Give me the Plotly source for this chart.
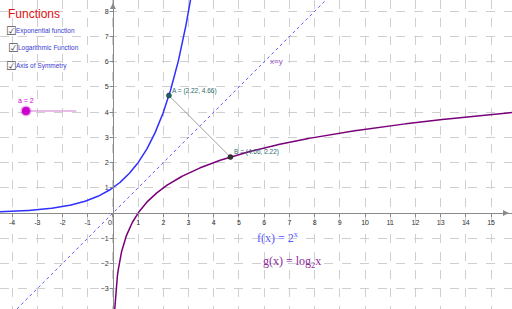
import numpy as np
import plotly.graph_objects as go

# ---- data ----
base_a = 2
x_range = [-4.48, 15.83]
y_range = [-3.81, 8.45]
x_ticks = list(range(-4, 16))
y_ticks = [-3, -2, -1, 1, 2, 3, 4, 5, 6, 7, 8]
point_A = (2.22, 4.66)
point_B = (4.66, 2.22)
checkbox_labels = ["Exponential function", "Logarithmic Function", "Axis of Symmetry"]
slider_value = 2

x_f = np.linspace(x_range[0], 3.12, 400)
y_f = base_a ** x_f
x_g = np.linspace(0.07, x_range[1], 600)
y_g = np.log(x_g) / np.log(base_a)
x_id = np.array([x_range[0], y_range[1]])

fig = go.Figure()

# axis of symmetry y = x
fig.add_trace(go.Scatter(x=x_id, y=x_id, mode="lines",
                         line=dict(color="#5a5aff", width=1, dash="dot"), hoverinfo="skip"))
# f(x) = 2^x
fig.add_trace(go.Scatter(x=x_f, y=y_f, mode="lines",
                         line=dict(color="#2f2fff", width=1.5), hoverinfo="skip"))
# g(x) = log2 x
fig.add_trace(go.Scatter(x=x_g, y=y_g, mode="lines",
                         line=dict(color="#780078", width=1.5), hoverinfo="skip"))
# segment AB
fig.add_trace(go.Scatter(x=[point_A[0], point_B[0]], y=[point_A[1], point_B[1]], mode="lines",
                         line=dict(color="#a0a0a0", width=1), hoverinfo="skip"))
# points
fig.add_trace(go.Scatter(x=[point_A[0]], y=[point_A[1]], mode="markers",
                         marker=dict(color="#1e5f66", size=5, line=dict(color="#0a3030", width=0.5)),
                         hoverinfo="skip"))
fig.add_trace(go.Scatter(x=[point_B[0]], y=[point_B[1]], mode="markers",
                         marker=dict(color="#333333", size=5, line=dict(color="#111111", width=0.5)),
                         hoverinfo="skip"))
# slider
fig.add_trace(go.Scatter(x=[-3.45, -1.45], y=[4.05, 4.05], mode="lines",
                         line=dict(color="#e0a8e0", width=1.5), hoverinfo="skip"))
fig.add_trace(go.Scatter(x=[-3.45], y=[4.05], mode="markers",
                         marker=dict(color="#cc00cc", size=8,
                                     line=dict(color="rgba(204,0,204,0.35)", width=3)),
                         hoverinfo="skip"))
# axis arrow heads
fig.add_trace(go.Scatter(x=[x_range[1] - 0.12], y=[0], mode="markers",
                         marker=dict(symbol="arrow-right", size=6, color="#8a8a8a"),
                         hoverinfo="skip"))
fig.add_trace(go.Scatter(x=[0], y=[y_range[1] - 0.12], mode="markers",
                         marker=dict(symbol="arrow-up", size=6, color="#8a8a8a"),
                         hoverinfo="skip"))

W, H = 512, 309

def px(x):
    return x / W

def py(y):
    return 1 - y / H

ann = []
ann.append(dict(x=px(6), y=py(14), xref="paper", yref="paper", text="Functions",
                showarrow=False, xanchor="left", yanchor="middle",
                font=dict(size=12, color="#e01010", family="Liberation Sans")))
cb_pos = [(6, 31), (8, 48), (6, 66)]
for (cx, cy), lab in zip(cb_pos, checkbox_labels):
    ann.append(dict(x=px(cx - 2), y=py(cy), xref="paper", yref="paper", text="☑",
                    showarrow=False, xanchor="left", yanchor="middle",
                    font=dict(size=12, color="#555555", family="DejaVu Sans")))
    ann.append(dict(x=px(cx + 8), y=py(cy), xref="paper", yref="paper", text=lab,
                    showarrow=False, xanchor="left", yanchor="middle",
                    font=dict(size=6.5, color="#3a3ad0", family="Liberation Sans")))
ann.append(dict(x=-3.45, y=4.05, text=f"a = {slider_value}", showarrow=False,
                xanchor="center", yanchor="bottom", yshift=5,
                font=dict(size=7, color="#cc00cc", family="Liberation Sans")))
ann.append(dict(x=point_A[0], y=point_A[1], text=f"A = ({point_A[0]:.2f}, {point_A[1]:.2f})",
                showarrow=False, xanchor="left", yanchor="bottom", xshift=1, yshift=-1,
                font=dict(size=6.5, color="#2a6a6a", family="Liberation Sans")))
ann.append(dict(x=point_B[0], y=point_B[1], text=f"B = ({point_B[0]:.2f}, {point_B[1]:.2f})",
                showarrow=False, xanchor="left", yanchor="bottom", xshift=2, yshift=-1,
                font=dict(size=6.5, color="#2a6a6a", family="Liberation Sans")))
ann.append(dict(x=6.15, y=6.0, text="x=y", showarrow=False, xanchor="left", yanchor="middle",
                font=dict(size=8, color="#a050d0", family="Liberation Sans")))
ann.append(dict(x=px(278), y=py(237), xref="paper", yref="paper",
                text="f(x) = 2<sup>x</sup>", showarrow=False, xanchor="center", yanchor="middle",
                font=dict(size=12, color="#5a5aff", family="Liberation Serif")))
ann.append(dict(x=px(292), y=py(262), xref="paper", yref="paper",
                text="g(x) = log<sub>2</sub>x", showarrow=False, xanchor="center", yanchor="middle",
                font=dict(size=12, color="#8a2a9a", family="Liberation Serif")))

xpos = (0 - y_range[0]) / (y_range[1] - y_range[0])
ypos = (0 - x_range[0]) / (x_range[1] - x_range[0])

x_ticktext = [str(v) if v != 0 else "0   " for v in x_ticks]

fig.update_layout(
    width=W, height=H, margin=dict(l=0, r=0, t=0, b=0),
    paper_bgcolor="white", plot_bgcolor="white", showlegend=False,
    annotations=ann,
    xaxis=dict(range=x_range, tickvals=x_ticks, ticktext=x_ticktext,
               showgrid=True, gridcolor="#cfcfcf", griddash="dash", gridwidth=1,
               showline=True, linecolor="#8a8a8a", linewidth=1,
               anchor="free", position=xpos, ticks="outside", ticklen=3, tickcolor="#8a8a8a",
               tickfont=dict(size=7, color="#333333", family="Liberation Sans"),
               zeroline=False, automargin=False, fixedrange=True),
    yaxis=dict(range=y_range, tickvals=y_ticks,
               showgrid=True, gridcolor="#cfcfcf", griddash="dash", gridwidth=1,
               showline=True, linecolor="#8a8a8a", linewidth=1,
               anchor="free", position=ypos, ticks="outside", ticklen=3, tickcolor="#8a8a8a",
               tickfont=dict(size=7, color="#333333", family="Liberation Sans"),
               zeroline=False, automargin=False, fixedrange=True),
)

fig.write_html("out.html")
